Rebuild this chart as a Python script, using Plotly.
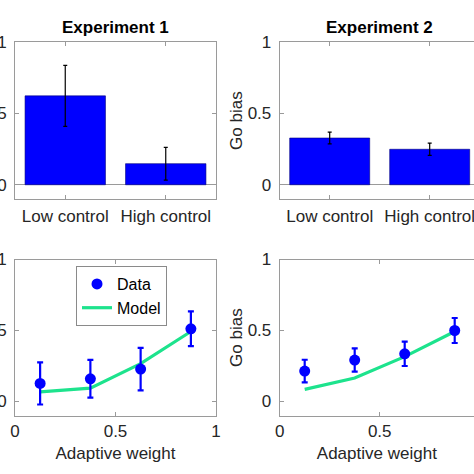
import plotly.graph_objects as go

# ---- data ----
categories = ["Low control", "High control"]
exp1_bar = [0.624, 0.148]
exp1_bar_err = [0.214, 0.115]
exp2_bar = [0.328, 0.249]
exp2_bar_err = [0.041, 0.043]

adaptive_weight = [0.125, 0.375, 0.625, 0.875]
exp1_data = [0.127, 0.160, 0.228, 0.512]
exp1_data_err = [0.148, 0.133, 0.150, 0.122]
exp1_model = [0.068, 0.094, 0.267, 0.493]
exp2_data = [0.214, 0.292, 0.336, 0.500]
exp2_data_err = [0.080, 0.082, 0.086, 0.088]
exp2_model = [0.085, 0.165, 0.316, 0.493]

titles = ["Experiment 1", "Experiment 2"]
W = H = 474
BLUE = "#0000FF"
GREEN = "#1DE38D"
AXC = "#9a9a9a"
TXT = "#262626"
FONT = "Liberation Sans, Arial, sans-serif"
FS = 17

fig = go.Figure()

# domains (paper coords)
xl = [15 / W, 216 / W]
xr = [279.7 / W, 1.0]
yt = [1 - 199 / H, 1 - 42.3 / H]
yb = [1 - 415.7 / H, 1 - 259.5 / H]

# top bars
fig.add_trace(go.Bar(x=[1, 2], y=exp1_bar, width=0.8, marker=dict(color=BLUE, line=dict(color="#00007a", width=0.6)),
                     error_y=dict(type="data", array=exp1_bar_err, color="black", thickness=1.2, width=2),
                     xaxis="x", yaxis="y", showlegend=False))
fig.add_trace(go.Bar(x=[1, 2], y=exp2_bar, width=0.8, marker=dict(color=BLUE, line=dict(color="#00007a", width=0.6)),
                     error_y=dict(type="data", array=exp2_bar_err, color="black", thickness=1.2, width=2),
                     xaxis="x2", yaxis="y2", showlegend=False))

# bottom: model then data
fig.add_trace(go.Scatter(x=adaptive_weight, y=exp1_model, mode="lines", line=dict(color=GREEN, width=3.2),
                         name="Model", xaxis="x3", yaxis="y3", legendrank=2))
fig.add_trace(go.Scatter(x=adaptive_weight, y=exp1_data, mode="markers", name="Data",
                         marker=dict(color=BLUE, size=11),
                         error_y=dict(type="data", array=exp1_data_err, color=BLUE, thickness=2.2, width=3),
                         xaxis="x3", yaxis="y3", legendrank=1))
fig.add_trace(go.Scatter(x=adaptive_weight, y=exp2_model, mode="lines", line=dict(color=GREEN, width=3.2),
                         xaxis="x4", yaxis="y4", showlegend=False))
fig.add_trace(go.Scatter(x=adaptive_weight, y=exp2_data, mode="markers",
                         marker=dict(color=BLUE, size=11),
                         error_y=dict(type="data", array=exp2_data_err, color=BLUE, thickness=2.2, width=3),
                         xaxis="x4", yaxis="y4", showlegend=False))

common = dict(showline=True, linecolor=AXC, linewidth=1, ticks="inside", ticklen=4, tickcolor=AXC,
              showgrid=False, zeroline=False, automargin=False, ticklabeloverflow="allow",
              tickfont=dict(size=FS, color=TXT, family=FONT))

ytick = dict(tickvals=[0, 0.5, 1], ticktext=["0", "0.5", "1"], range=[-0.1, 1.0], ticklabelstandoff=4)
ytitle = dict(text="Go bias", font=dict(size=FS, color=TXT, family=FONT), standoff=0)
xtitle = dict(text="Adaptive weight", font=dict(size=FS, color=TXT, family=FONT), standoff=7)

fig.update_layout(
    template="none",
    xaxis=dict(domain=xl, anchor="y", range=[0.5, 2.5], tickvals=[1, 2], ticktext=categories, mirror="ticks",
               ticklabelstandoff=2, **common),
    yaxis=dict(domain=yt, anchor="x", mirror="ticks", **ytick, **common),
    xaxis2=dict(domain=xr, anchor="y2", range=[0.5, 2.443], tickvals=[1, 2], ticktext=categories, mirror="ticks",
                ticklabelstandoff=2, **common),
    yaxis2=dict(domain=yt, anchor="x2", mirror=False, title=ytitle, **ytick, **common),
    xaxis3=dict(domain=xl, anchor="y3", range=[0, 1], tickvals=[0, 0.5, 1], ticktext=["0", "0.5", "1"], mirror="ticks",
                title=xtitle, **common),
    yaxis3=dict(domain=yb, anchor="x3", mirror="ticks", **ytick, **common),
    xaxis4=dict(domain=xr, anchor="y4", range=[0, 0.9715], tickvals=[0, 0.5, 1], ticktext=["0", "0.5", "1"], mirror="ticks",
                title=xtitle, **common),
    yaxis4=dict(domain=yb, anchor="x4", mirror=False, title=ytitle, **ytick, **common),
)
# zero baselines in bar panels
for ax in ["yaxis", "yaxis2"]:
    fig.layout[ax].zeroline = True
    fig.layout[ax].zerolinecolor = AXC
    fig.layout[ax].zerolinewidth = 1

fig.add_annotation(text="<b>" + titles[0] + "</b>", x=115.5 / W, y=1 - 28 / H, xref="paper", yref="paper",
                   xanchor="center", yanchor="middle",
                   showarrow=False, font=dict(size=FS, color="black", family=FONT))
fig.add_annotation(text="<b>" + titles[1] + "</b>", x=379.7 / W, y=1 - 28 / H, xref="paper", yref="paper",
                   xanchor="center", yanchor="middle",
                   showarrow=False, font=dict(size=FS, color="black", family=FONT))

fig.update_layout(
    width=W, height=H, margin=dict(l=0, r=0, t=0, b=0, autoexpand=False),
    plot_bgcolor="white", paper_bgcolor="white", bargap=0.2,
    legend=dict(x=76 / W, y=1 - 266 / H, xanchor="left", yanchor="top", bordercolor="#8a8a8a", borderwidth=1,
                bgcolor="white", font=dict(size=16, color="black", family=FONT), tracegroupgap=0,
                itemwidth=30),
)

fig.write_html("out.html")
